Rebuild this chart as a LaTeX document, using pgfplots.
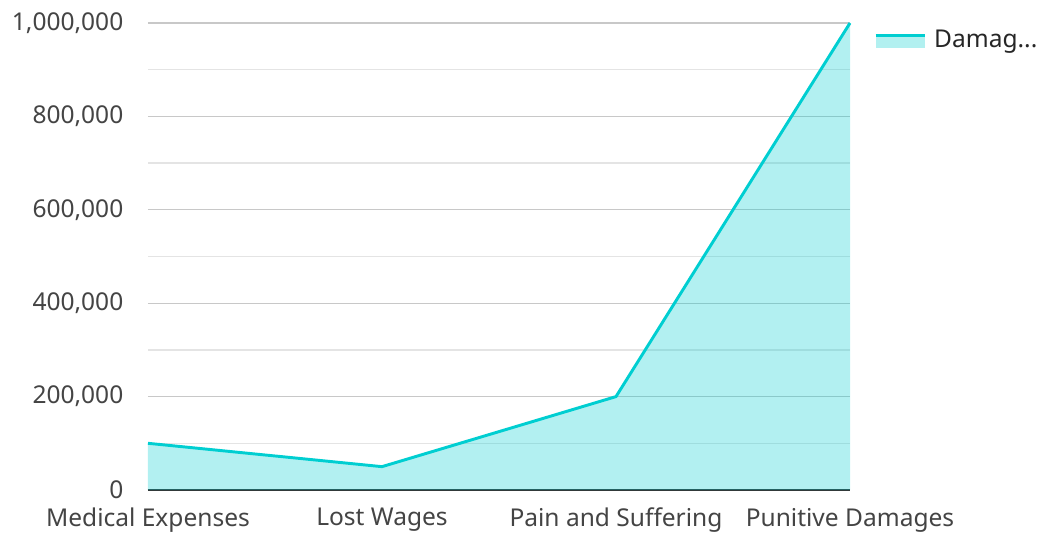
\documentclass[border=0pt]{standalone}
\usepackage{pgfplots}
\pgfplotsset{compat=1.18}
\usepackage{fontspec}
\setmainfont{Noto Sans}
\definecolor{lc}{RGB}{0,206,209}
\definecolor{lf}{RGB}{178,240,240}
\definecolor{tc}{RGB}{68,68,68}
\definecolor{mg}{RGB}{200,200,200}
\definecolor{ng}{RGB}{228,228,228}
\begin{document}
\begin{tikzpicture}
\path[use as bounding box] (0pt,0pt) rectangle (780pt,399.75pt);
\begin{axis}[
  at={(111pt,32.25pt)}, anchor=south west,
  scale only axis, width=526.5pt, height=350.25pt,
  xmin=0, xmax=3, ymin=0, ymax=1000000,
  xtick={0,1,2,3},
  xticklabels={Medical Expenses, Lost Wages, Pain and Suffering, Punitive Damages},
  ytick={0,200000,400000,600000,800000,1000000},
  minor ytick={100000,300000,500000,700000,900000},
  yticklabels={0,{200,000},{400,000},{600,000},{800,000},{1,000,000}},
  scaled y ticks=false,
  ymajorgrids, yminorgrids,
  major grid style={mg, line width=1pt},
  minor grid style={ng, line width=1pt},
  major tick length=0pt, minor tick length=0pt,
  axis x line*=bottom, axis y line*=left,
  y axis line style={draw=none},
  x axis line style={draw=black!80, line width=1.3pt, -},
  tick label style={font=\fontsize{18.4}{21}\selectfont, text=tc},
  xticklabel style={yshift=-10pt},
  yticklabel style={xshift=-15pt},
  clip=false,
  legend style={at={(1,1)}, anchor=north west, xshift=15pt, yshift=-1pt, draw=none, fill=none,
    font=\fontsize{18.4}{21}\selectfont, text=black!85},
  legend cell align=left,
]
\addplot[fill=lc, fill opacity=0.3, draw=none, forget plot] coordinates {(0,100000) (1,50000) (2,200000) (3,1000000)} \closedcycle;
\addplot[lc, line width=2.2pt, legend image code/.code={
    \path[fill=lf, draw=none] (0pt,-6.5pt) rectangle (36.75pt,3pt);
    \path[draw=lc, line width=2.2pt] (0pt,3pt) -- (36.75pt,3pt);
  }] coordinates {(0,100000) (1,50000) (2,200000) (3,1000000)};
\addlegendentry{\hspace{4pt}Damag...}
\end{axis}
\end{tikzpicture}
\end{document}
